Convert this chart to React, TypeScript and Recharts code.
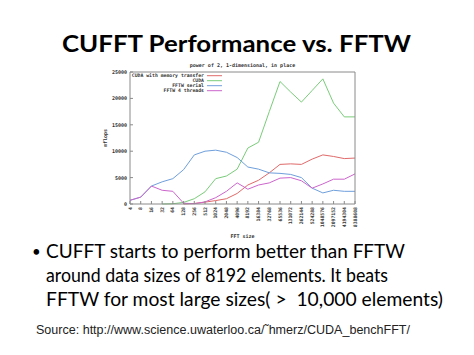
import React from 'react';
import { LineChart, Line, XAxis, YAxis } from 'recharts';

const sizeLabels = ['4', '8', '16', '32', '64', '128', '256', '512', '1024', '2048', '4096', '8192', '16384', '32768', '65536', '131072', '262144', '524288', '1048576', '2097152', '4194304', '8388608'];
const cudaWithTransfer = [null, null, null, null, null, 0, 100, 350, 650, 1000, 2000, 3600, 4500, 5900, 7500, 7600, 7500, 8500, 9300, 9000, 8600, 8700];
const cudaOnly = [null, null, null, 0, 50, 300, 1000, 2300, 4800, 5300, 6600, 10600, 11700, 17500, 23200, 21200, 19300, 21500, 23700, 19100, 16500, 16500];
const fftwSerial = [700, 1300, 3400, 4200, 4800, 6500, 9300, 10000, 10200, 9800, 8800, 7000, 6600, 5900, 5800, 5600, 5000, 3000, 2100, 2600, 2400, 2400];
const fftwThreads = [700, 1300, 3400, 2600, 2400, 150, 50, 400, 1200, 2400, 4000, 2800, 3600, 4000, 4900, 5000, 4400, 3000, 3800, 4700, 4700, 5700];
const yTicks = [0, 5000, 10000, 15000, 20000, 25000];
const xTicks = sizeLabels.map((_, i) => i);

const series = [
  { key: 'cudaMem', name: 'CUDA with memory transfer', color: '#e06a6a', values: cudaWithTransfer },
  { key: 'cuda', name: 'CUDA', color: '#7acc7a', values: cudaOnly },
  { key: 'serial', name: 'FFTW serial', color: '#6f9fdc', values: fftwSerial },
  { key: 'threads', name: 'FFTW 4 threads', color: '#cc66cc', values: fftwThreads },
];

const data = sizeLabels.map((s, i) => {
  const row: any = { idx: i, size: s };
  series.forEach((sr) => { row[sr.key] = sr.values[i]; });
  return row;
});

const W = 474;
const H = 355;
const PL = 130, PR = 355, PT = 72, PB = 204;
const AX = 1;
const mono = '"DejaVu Sans Mono", "Liberation Mono", monospace';
const frame = '#8a8a8a';

const XTick = (props: any) => {
  const { x, payload } = props;
  return (
    <text transform={`translate(${x},${PB + 3}) rotate(-90)`} textAnchor="end" dominantBaseline="central"
      fontFamily={mono} fontSize={4.8} fontWeight="bold" fill="#333">
      {sizeLabels[payload.value]}
    </text>
  );
};

const YTick = (props: any) => {
  const { y, payload } = props;
  return (
    <text x={PL - 3} y={y} textAnchor="end" dominantBaseline="central"
      fontFamily={mono} fontSize={5} fontWeight="bold" fill="#333">
      {payload.value}
    </text>
  );
};

export default function App() {
  return (
    <div style={{ position: 'absolute', left: 0, top: 0, width: W, height: H, background: '#fff' }}>
      <div style={{ position: 'absolute', left: 0, top: 0 }}>
        <LineChart width={W} height={H} data={data}
          margin={{ top: PT, right: W - PR, bottom: H - PB, left: PL }}>
          <XAxis dataKey="idx" type="number" domain={[0, 21]} ticks={xTicks} interval={0}
            height={AX} tick={<XTick />} tickSize={3} mirror axisLine={{ stroke: frame }} tickLine={{ stroke: frame }} />
          <XAxis xAxisId="top" orientation="top" dataKey="idx" type="number" domain={[0, 21]} ticks={xTicks}
            interval={0} height={AX} tick={false} tickSize={3} mirror axisLine={{ stroke: frame }} tickLine={{ stroke: frame }} />
          <YAxis type="number" domain={[0, 25000]} ticks={yTicks} interval={0} width={AX}
            tick={<YTick />} tickSize={3} mirror axisLine={{ stroke: frame }} tickLine={{ stroke: frame }} />
          <YAxis yAxisId="right" orientation="right" type="number" domain={[0, 25000]} ticks={yTicks} interval={0}
            width={AX} tick={false} tickSize={3} mirror axisLine={{ stroke: frame }} tickLine={{ stroke: frame }} />
          {series.map((sr) => (
            <Line key={sr.key} dataKey={sr.key} name={sr.name} stroke={sr.color} strokeWidth={1}
              dot={false} isAnimationActive={false} connectNulls={false} />
          ))}
        </LineChart>
      </div>
      <svg width={W} height={H} style={{ position: 'absolute', left: 0, top: 0, pointerEvents: 'none' }}>
        <text x={236.5} y={51.7} textAnchor="middle" fontFamily="Lato, 'Open Sans', sans-serif" fontWeight="bold"
          fontSize={23} textLength={349} lengthAdjust="spacingAndGlyphs" fill="#000">CUFFT Performance vs. FFTW</text>

        <text x={242.5} y={66.5} textAnchor="middle" fontFamily={mono} fontSize={5} fontWeight="bold" fill="#333">
          power of 2, 1-dimensional, in place</text>
        <text transform={`translate(105,138) rotate(-90)`} textAnchor="middle" dominantBaseline="central"
          fontFamily={mono} fontSize={5} fontWeight="bold" fill="#333">mflops</text>
        <text x={242.5} y={236} textAnchor="middle" dominantBaseline="central" fontFamily={mono} fontSize={5}
          fontWeight="bold" fill="#333">FFT size</text>

        {series.map((sr, i) => (
          <g key={sr.key}>
            <text x={204} y={75.7 + i * 5} textAnchor="end" dominantBaseline="central" fontFamily={mono}
              fontSize={4.8} fontWeight="bold" fill="#333">{sr.name}</text>
            <line x1={207} x2={222} y1={75.7 + i * 5} y2={75.7 + i * 5} stroke={sr.color} strokeWidth={1} />
          </g>
        ))}

        <text x={32} y={257} fontFamily="Lato, 'Open Sans', sans-serif" fontSize={15} fill="#000">•</text>
        <text x={46} y={258} fontFamily="Lato, 'Open Sans', sans-serif" fontSize={18.5} fill="#000"
          textLength={359} lengthAdjust="spacingAndGlyphs">CUFFT starts to perform better than FFTW</text>
        <text x={46} y={282} fontFamily="Lato, 'Open Sans', sans-serif" fontSize={18.5} fill="#000"
          textLength={342} lengthAdjust="spacingAndGlyphs">around data sizes of 8192 elements. It beats</text>
        <text x={46} y={306} fontFamily="Lato, 'Open Sans', sans-serif" fontSize={18.5} fill="#000"
          textLength={397} lengthAdjust="spacingAndGlyphs" style={{ whiteSpace: 'pre' }}>FFTW for most large sizes( &gt;  10,000 elements)</text>

        <text x={36} y={334} fontFamily="'Liberation Sans', Arial, sans-serif" fontSize={12.5} fill="#222"
          textLength={374} lengthAdjust="spacingAndGlyphs">Source: http://www.science.uwaterloo.ca/˜hmerz/CUDA_benchFFT/</text>
      </svg>
    </div>
  );
}
